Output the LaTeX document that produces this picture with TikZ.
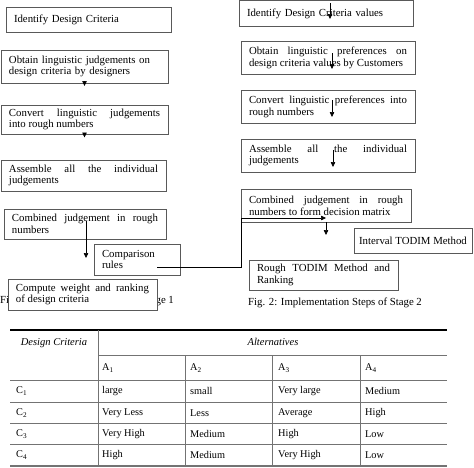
\documentclass[tikz,border=0pt]{standalone}
\usepackage{fontspec}
\setmainfont{Liberation Serif}
\usetikzlibrary{arrows.meta,calc}
\begin{document}
\begin{tikzpicture}[x=1pt,y=-1pt,
  box/.style={draw=black!65, line width=0.8pt, fill=white, rectangle,
    inner xsep=8pt, inner ysep=1pt, outer sep=0pt, anchor=north west,
    align=justify, font=\fontsize{10.8}{11.8}\selectfont},
  lbox/.style={box, align=left},
  arr/.style={-{Triangle[length=5pt,width=4.5pt]}, line width=0.6pt, black},
  figcap/.style={anchor=west, inner sep=0pt, font=\fontsize{10.8}{12}\selectfont},
  tt/.style={anchor=west, inner sep=0pt, font=\fontsize{10.3}{12}\selectfont},
  tabrule/.style={draw=black!55, line width=0.8pt}]
\useasboundingbox (0,0) rectangle (474,467);

% ---------- Figure 1 (left) ----------
\node[figcap] (cap1) at (0,301) {Fig. 1: Implementation Steps of Stage 1};

\node[lbox, text width=149pt, minimum width=165pt, minimum height=25pt] (B1) at (6,7) {Identify Design Criteria};
\node[lbox, text width=151pt, minimum width=167pt, minimum height=33pt] (B2) at (1,50) {Obtain linguistic judgements on\\design criteria by designers};
\node[box, text width=151pt, minimum width=167pt, minimum height=29pt] (B3) at (1,105) {Convert linguistic judgements\linebreak into rough numbers};
\node[box, text width=149pt, minimum width=165pt, minimum height=31pt] (B4) at (1,160) {Assemble all the individual\linebreak judgements};
\node[box, text width=146pt, minimum width=162pt, minimum height=30pt] (B5) at (4,209) {Combined judgement in rough\linebreak numbers};
\node[lbox, text width=70pt, minimum width=86pt, minimum height=31pt] (B6) at (94,244) {Comparison\\rules};
\node[box, text width=133pt, minimum width=149pt, minimum height=31pt] (B7) at (8,279) {Compute weight and ranking\linebreak of design criteria};

\draw[arr] (B2.south) -- ++(0,3);
\draw[arr] (B3.south) -- ++(0,3.5);
\coordinate (p1) at (86,221);
\coordinate (p2) at (86,258);
\draw[arr] (p1) -- (p2);

% ---------- Figure 2 (right) ----------
\node[figcap] (cap2) at (248,303) {Fig. 2: Implementation Steps of Stage 2};

\node[lbox, text width=158pt, minimum width=174pt, minimum height=26pt] (R1) at (239,0.5) {Identify Design Criteria values};
\node[box, text width=158pt, minimum width=174pt, minimum height=33pt] (R2) at (241,41) {Obtain linguistic preferences on\linebreak design criteria values by Customers};
\node[box, text width=158pt, minimum width=174pt, minimum height=33pt] (R3) at (241,90) {Convert linguistic preferences into\linebreak rough numbers};
\node[box, text width=158pt, minimum width=174pt, minimum height=33pt] (R4) at (241,139) {Assemble all the individual\linebreak judgements};
\node[box, text width=154pt, minimum width=170pt, minimum height=33pt] (R5) at (241,189) {Combined judgement in rough\linebreak numbers to form decision matrix};
\node[box, align=center, inner xsep=2pt, minimum width=118pt, minimum height=25pt] (R6) at (354,228) {Interval TODIM Method};
\node[box, text width=133pt, minimum width=149pt, minimum height=30pt] (R7) at (249,260) {Rough TODIM Method and\linebreak Ranking};

\coordinate (q1a) at (330,3);   \coordinate (q1b) at (330,19);
\coordinate (q2a) at (332,53);  \coordinate (q2b) at (332,69);
\coordinate (q3a) at (332,100); \coordinate (q3b) at (332,117);
\coordinate (q4a) at (333,150); \coordinate (q4b) at (333,167);
\draw[arr] (q1a) -- (q1b);
\draw[arr] (q2a) -- (q2b);
\draw[arr] (q3a) -- (q3b);
\draw[arr] (q4a) -- (q4b);
\coordinate (q5a) at (326,222); \coordinate (q5b) at (326,235);
\draw[arr] (q5a) -- (q5b);

% connector from Comparison rules to decision matrix
\coordinate (c1) at (157,267);
\coordinate (c2) at (326,218);
\draw[arr] (c1) -- (c1 -| R5.west) -- (R5.west |- c2) -- (c2);

% ---------- Table ----------
\draw[black, line width=1.8pt] (10,330) -- (447,330);
\draw[black!55, line width=1.8pt] (10,466) -- (447,466);
\draw[tabrule] (98,330) -- (98,467);
\draw[tabrule] (98,355) -- (447,355);
\foreach \xx in {185,272,360} \draw[tabrule] (\xx,355) -- (\xx,467);
\foreach \yy in {380,402,423.5,444.5} \draw[tabrule] (10,\yy) -- (447,\yy);

\node[tt, anchor=center, font=\fontsize{10.5}{12}\selectfont\itshape] (h1) at (54,343) {Design Criteria};
\node[tt, anchor=center, font=\fontsize{10.5}{12}\selectfont\itshape] (h2) at (273,342) {Alternatives};

\node[tt] (a1) at (102,368) {A\textsubscript{1}};
\node[tt] (a2) at (190,368) {A\textsubscript{2}};
\node[tt] (a3) at (278,368) {A\textsubscript{3}};
\node[tt] (a4) at (365,368) {A\textsubscript{4}};

\foreach \r/\yy/\va/\vb/\vc/\vd in {1/391/large/small/Very large/Medium,
  2/413/Very Less/Less/Average/High,
  3/434/Very High/Medium/High/Low,
  4/455/High/Medium/Very High/Low}{
  \node[tt] (c\r) at (16,\yy) {C\textsubscript{\r}};
  \node[tt] (v\r a) at (102,\yy) {\va};
  \node[tt] (v\r b) at (190,\yy) {\vb};
  \node[tt] (v\r c) at (278,\yy) {\vc};
  \node[tt] (v\r d) at (365,\yy) {\vd};
}
\end{tikzpicture}
\end{document}
